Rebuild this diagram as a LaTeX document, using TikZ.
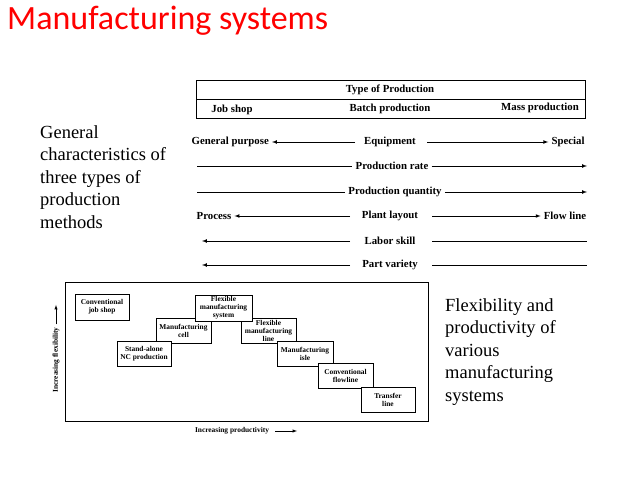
\documentclass[tikz,border=0pt]{standalone}
\usepackage{fontspec}
\setmainfont{Liberation Serif}
\newfontfamily\titlefont{Carlito}
\begin{document}
\begin{tikzpicture}[x=1pt,y=-1pt,
  lbl/.style={font=\fontsize{10.8}{12}\selectfont\bfseries, inner sep=3pt},
  big/.style={font=\fontsize{18.5}{22.5}\selectfont, align=left, anchor=north west, inner sep=0pt},
  sbox/.style={draw, fill=white, font=\fontsize{7.4}{8}\selectfont\bfseries, align=center, inner sep=0pt, line width=0.6pt},
  arr/.style={-latex, line width=0.7pt},
  ln/.style={line width=0.7pt}]
\useasboundingbox (0,0) rectangle (638,478);
\node[anchor=west, text=red, font=\titlefont\fontsize{34}{36}\selectfont, inner sep=0pt] (title) at (7,21) {Manufacturing systems};
% table
\draw[line width=0.8pt] (196,80) rectangle (585,118);
\draw[line width=0.6pt] (196,99) -- (585,99);
\node[lbl] (tp) at (390,90) {Type of Production};
\node[lbl] (js) at (232,110) {Job shop};
\node[lbl] (bp) at (390,109) {Batch production};
\node[lbl] (mp) at (540,108) {Mass production};
\node[big] (gen) at (40,125) {General\\characteristics of\\three types of\\production\\methods};
% rows
\node[lbl] (eq) at (390,142) {Equipment};
\node[lbl,anchor=east] (gp) at (272,142) {General purpose};
\node[lbl] (sp) at (568,142) {Special};
\coordinate (eqa) at (355,142); \coordinate (eqb) at (427,142);
\draw[arr] (eqa) -- (gp.east);
\draw[arr] (eqb) -- (sp.west);
\node[lbl] (pr) at (392,166) {Production rate};
\coordinate (prl) at (197,166); \coordinate (prr) at (587,166);
\draw[ln] (prl) -- (pr.west); \draw[arr] (pr.east) -- (prr);
\node[lbl] (pq) at (395,192) {Production quantity};
\coordinate (pql) at (197,192); \coordinate (pqr) at (587,192);
\draw[ln] (pql) -- (pq.west); \draw[arr] (pq.east) -- (pqr);
\node[lbl] (pl) at (390,216) {Plant layout};
\node[lbl] (proc) at (214,216) {Process};
\node[lbl] (fl) at (565,216) {Flow line};
\coordinate (pla) at (350,216); \coordinate (plb) at (432,216);
\draw[arr] (pla) -- (proc.east); \draw[arr] (plb) -- (fl.west);
\node[lbl] (ls) at (390,241) {Labor skill};
\coordinate (lsa) at (350,241); \coordinate (lsl) at (202,241);
\coordinate (lsb) at (432,241); \coordinate (lsr) at (587,241);
\draw[arr] (lsa) -- (lsl); \draw[ln] (lsb) -- (lsr);
\node[lbl] (pv) at (390,265) {Part variety};
\coordinate (pva) at (350,265); \coordinate (pvl) at (202,265);
\coordinate (pvb) at (432,265); \coordinate (pvr) at (587,265);
\draw[arr] (pva) -- (pvl); \draw[ln] (pvb) -- (pvr);
% bottom figure
\draw[line width=0.9pt] (65,282) rectangle (428,421);
\node[sbox, minimum width=54pt, minimum height=26pt] (cjs) at (102,307) {Conventional\\job shop};
\node[sbox, minimum width=55pt, minimum height=25pt] (mc) at (183.5,330.5) {Manufacturing\\cell};
\node[sbox, minimum width=55pt, minimum height=25pt] (fml) at (268.5,330.5) {Flexible\\manufacturing\\line};
\node[sbox, minimum width=57pt, minimum height=26pt] (fms) at (223.5,308) {Flexible\\manufacturing\\system};
\node[sbox, minimum width=54pt, minimum height=25pt] (nc) at (144,353.5) {Stand-alone\\NC production};
\node[sbox, minimum width=56pt, minimum height=25pt] (mi) at (305,353.5) {Manufacturing\\isle};
\node[sbox, minimum width=55pt, minimum height=25pt] (cf) at (345.5,375.5) {Conventional\\flowline};
\node[sbox, minimum width=54pt, minimum height=25pt] (tl) at (388,399.5) {Transfer\\line};
\node[font=\fontsize{7.4}{8}\selectfont\bfseries, rotate=90, inner sep=0pt] (yl) at (56,360) {Increasing flexibility};
\coordinate (ya) at (56,305);
\draw[-latex, line width=0.5pt] (yl.east) ++(0,-3) -- (ya);
\node[font=\fontsize{7.4}{8}\selectfont\bfseries, inner sep=0pt] (xl) at (232,431) {Increasing productivity};
\coordinate (xa) at (297,431);
\draw[-latex, line width=0.5pt] (xl.east) ++(6,0) -- (xa);
\node[big] (flex) at (445,298) {Flexibility and\\productivity of\\various\\manufacturing\\systems};
\end{tikzpicture}
\end{document}
